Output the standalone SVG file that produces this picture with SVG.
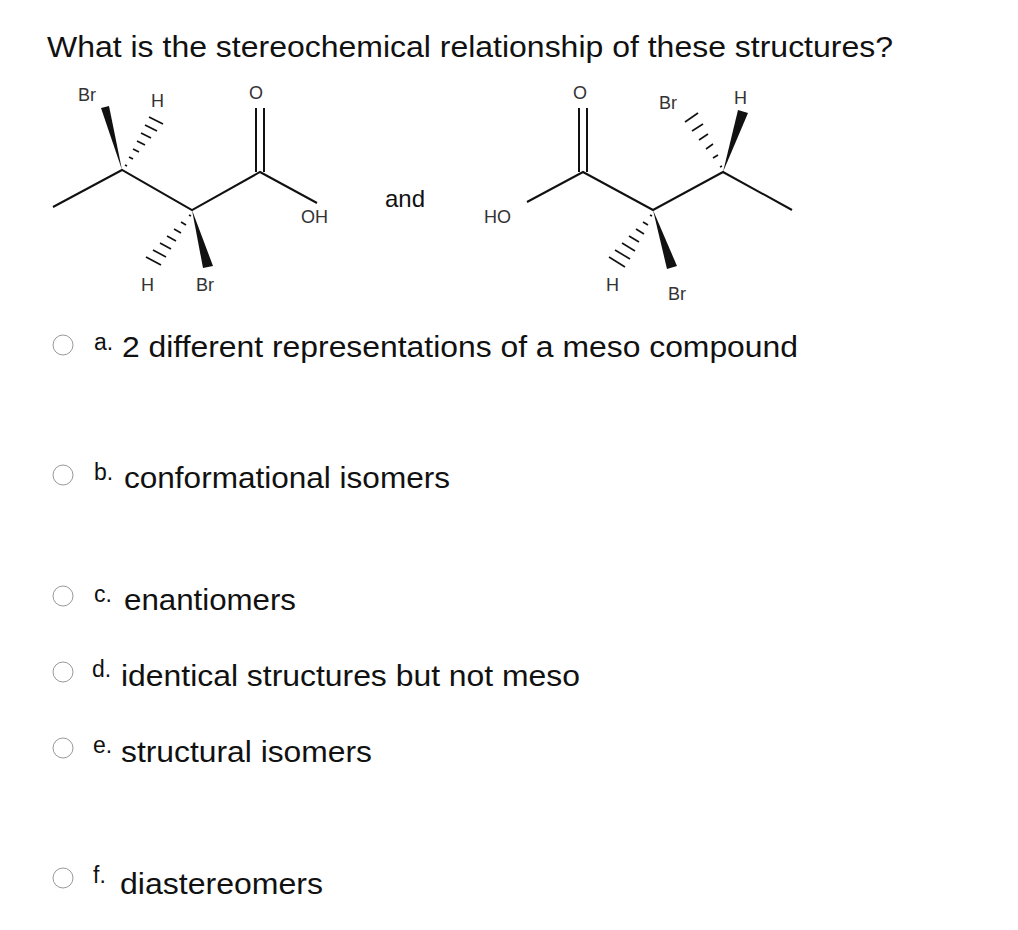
<svg xmlns="http://www.w3.org/2000/svg" width="1018" height="930" viewBox="0 0 1018 930">
<style>
.t{font-family:"Liberation Sans",Arial,sans-serif;fill:#111}
.q{font-size:30px}
.a{font-size:18px;fill:#333}
.o{font-size:29px}
.l{font-size:23px}
.n{font-size:24px}
.b{stroke:#111;stroke-width:2;fill:none}
.h{stroke:#111;stroke-width:1.6}
.r{fill:#fff;stroke:#999;stroke-width:1}
</style>
<rect width="1018" height="930" fill="#fff"/>
<text class="t q" x="47" y="57" textLength="846" lengthAdjust="spacingAndGlyphs">What is the stereochemical relationship of these structures?</text>
<g id="mol1">
<path class="b" d="M53 207L122 170L192 210L260 172L317 203M256 172V108M264 172V108"/>
<polygon points="122,170 101,108 109,106" fill="#111"/>
<polygon points="192,210 203,268 213,266" fill="#111"/>
<g class="h"><line x1="125" y1="165" x2="127" y2="166"/><line x1="129" y1="157" x2="133" y2="159"/><line x1="133" y1="149" x2="139" y2="152"/><line x1="137" y1="141" x2="145" y2="145"/><line x1="141" y1="133" x2="151" y2="138"/><line x1="145" y1="125" x2="157" y2="131"/><line x1="149" y1="117" x2="163" y2="124"/>
<line x1="189" y1="215" x2="191" y2="216"/><line x1="181" y1="222" x2="186" y2="225"/><line x1="174" y1="229" x2="181" y2="233"/><line x1="167" y1="236" x2="176" y2="241"/><line x1="160" y1="243" x2="171" y2="249"/><line x1="153" y1="250" x2="166" y2="257"/><line x1="146" y1="257" x2="161" y2="265"/></g>
<text class="t a" x="78" y="101">Br</text><text class="t a" x="151" y="107">H</text>
<text class="t a" x="249" y="99">O</text><text class="t a" x="301" y="223">OH</text>
<text class="t a" x="141" y="291">H</text><text class="t a" x="196" y="291">Br</text>
</g>
<text class="t n" x="385" y="207">and</text>
<g id="mol2">
<path class="b" d="M527 202L583 172L653 210L723 172L792 210M579 172V108M587 172V108"/>
<polygon points="723,172 738,110 748,113" fill="#111"/>
<polygon points="653,210 667,269 677,266" fill="#111"/>
<g class="h"><line x1="720" y1="167" x2="722" y2="166"/><line x1="713" y1="158" x2="718" y2="155"/><line x1="706" y1="149" x2="713" y2="144"/><line x1="699" y1="140" x2="708" y2="134"/><line x1="692" y1="131" x2="703" y2="124"/><line x1="685" y1="122" x2="698" y2="113"/>
<line x1="650" y1="215" x2="652" y2="216"/><line x1="643" y1="222" x2="648" y2="225"/><line x1="636" y1="229" x2="644" y2="234"/><line x1="629" y1="236" x2="639" y2="242"/><line x1="622" y1="243" x2="635" y2="251"/><line x1="615" y1="250" x2="630" y2="259"/><line x1="609" y1="257" x2="625" y2="267"/></g>
<text class="t a" x="573" y="99">O</text><text class="t a" x="484" y="223">HO</text>
<text class="t a" x="659" y="109">Br</text><text class="t a" x="734" y="104">H</text>
<text class="t a" x="606" y="291">H</text><text class="t a" x="668" y="300">Br</text>
</g>
<g id="opts">
<circle class="r" cx="63" cy="345" r="10"/><text class="t l" x="94" y="350">a.</text><text class="t o" x="122" y="357" textLength="676" lengthAdjust="spacingAndGlyphs">2 different representations of a meso compound</text>
<circle class="r" cx="63" cy="475" r="10"/><text class="t l" x="94" y="480">b.</text><text class="t o" x="124" y="488" textLength="326" lengthAdjust="spacingAndGlyphs">conformational isomers</text>
<circle class="r" cx="63" cy="596" r="10"/><text class="t l" x="94" y="602">c.</text><text class="t o" x="124" y="610" textLength="172" lengthAdjust="spacingAndGlyphs">enantiomers</text>
<circle class="r" cx="63" cy="672" r="10"/><text class="t l" x="92" y="677">d.</text><text class="t o" x="121" y="686" textLength="459" lengthAdjust="spacingAndGlyphs">identical structures but not meso</text>
<circle class="r" cx="63" cy="748" r="10"/><text class="t l" x="93" y="753">e.</text><text class="t o" x="121" y="762" textLength="251" lengthAdjust="spacingAndGlyphs">structural isomers</text>
<circle class="r" cx="63" cy="878" r="10"/><text class="t l" x="93" y="883">f.</text><text class="t o" x="120" y="894" textLength="203" lengthAdjust="spacingAndGlyphs">diastereomers</text>
</g>
</svg>
